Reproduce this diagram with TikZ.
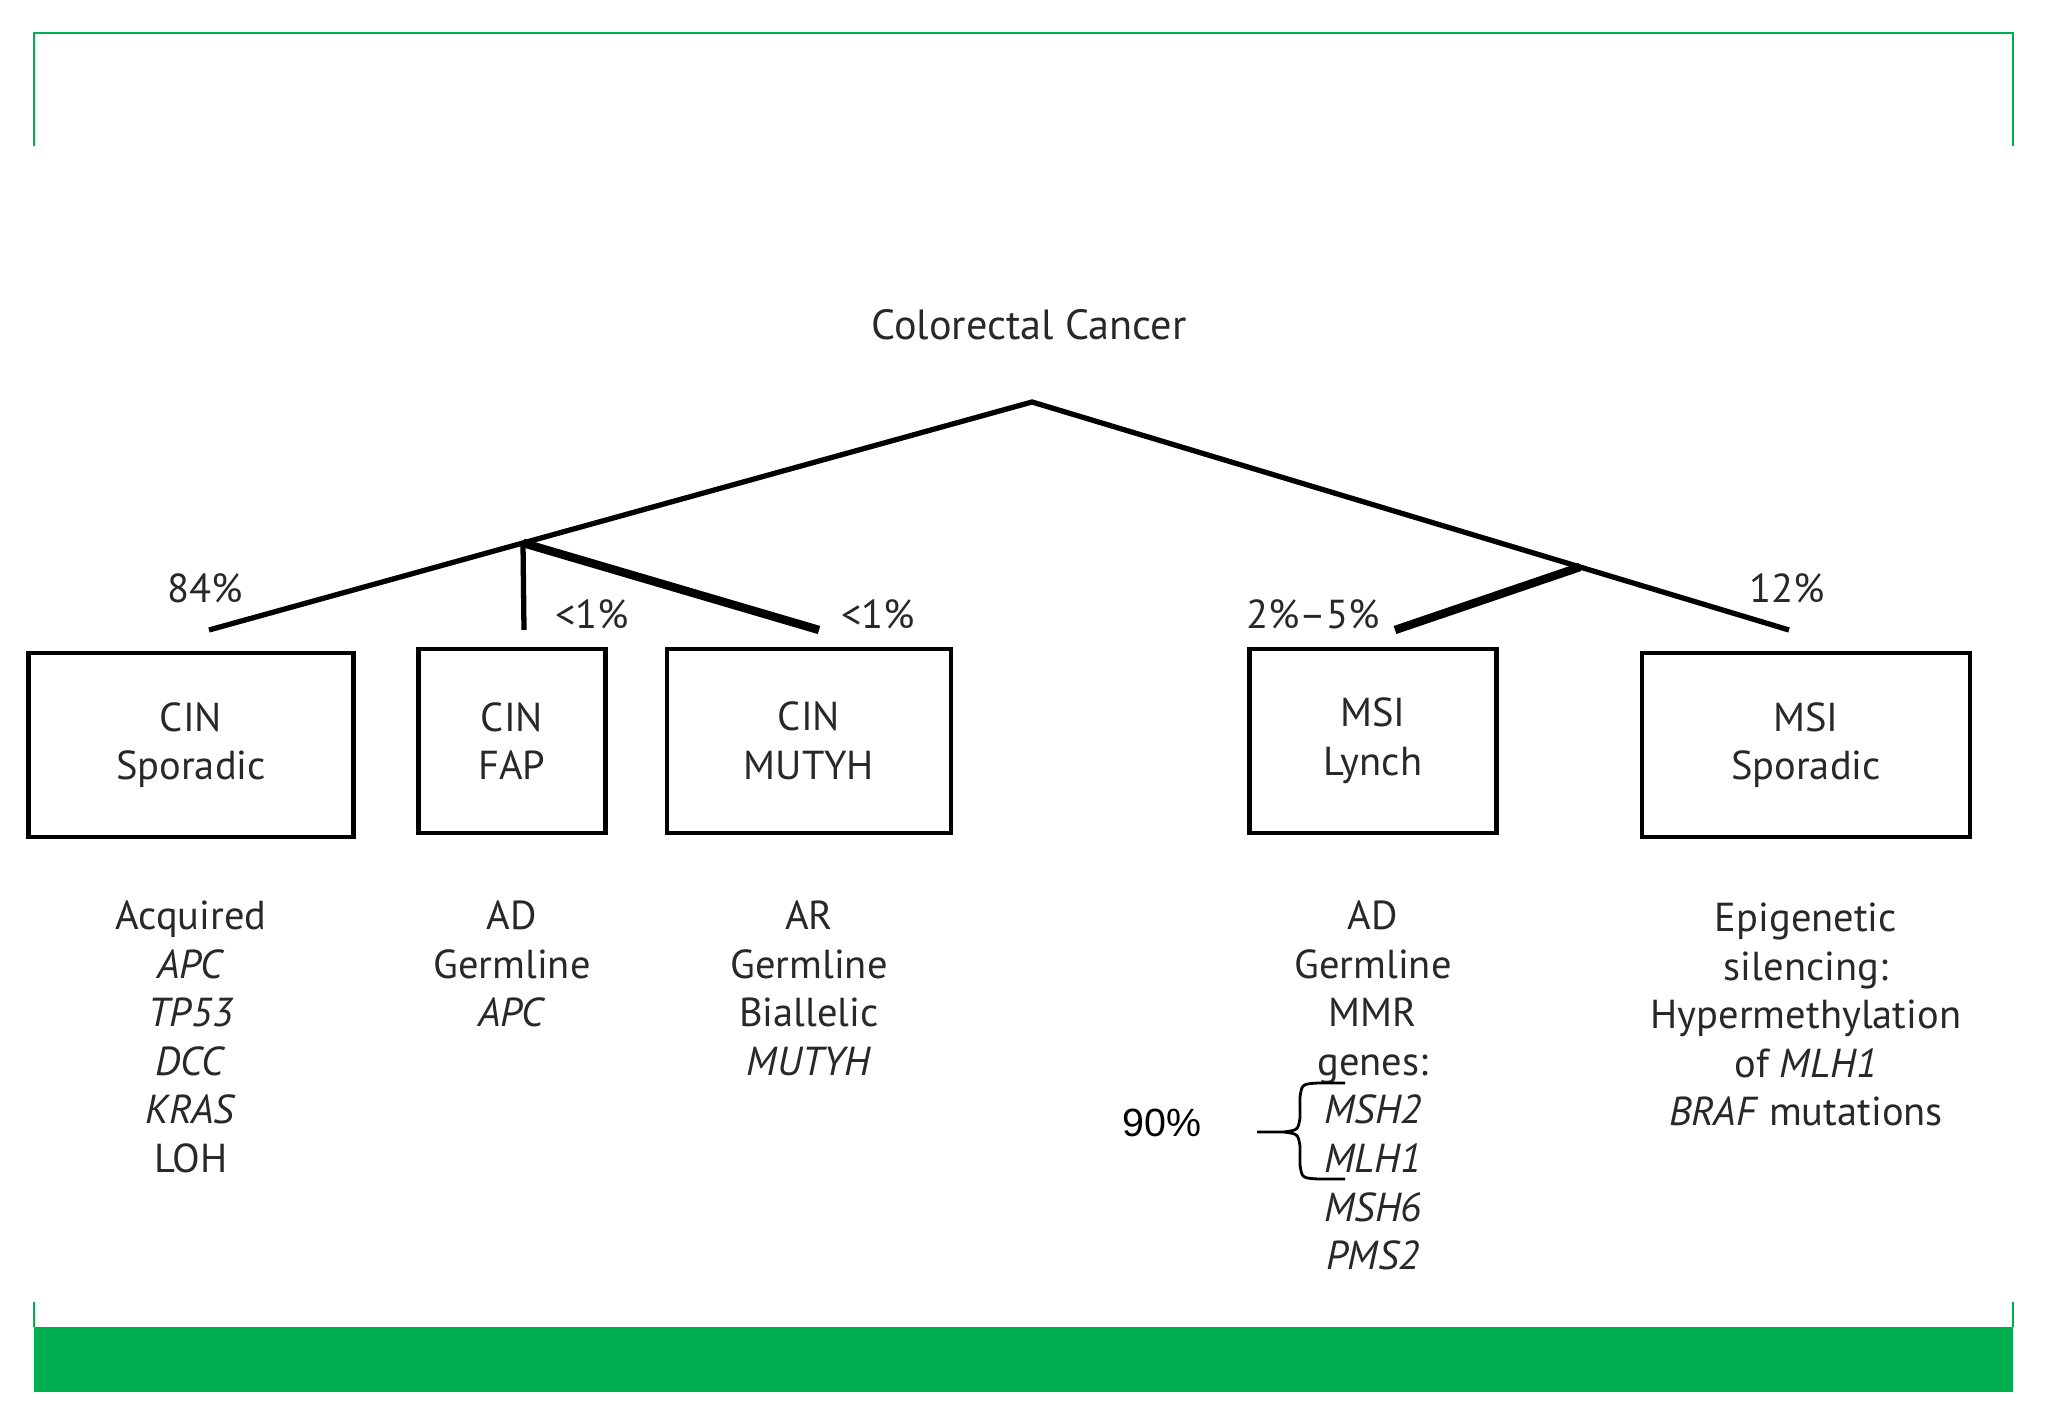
\documentclass[tikz,border=0pt]{standalone}
\usepackage{fontspec}
\setmainfont{PT Sans}
\newfontfamily\arialfont{Liberation Sans}
\usetikzlibrary{positioning}
\definecolor{framegreen}{RGB}{0,176,80}
\definecolor{inkgray}{RGB}{40,40,40}
\tikzset{
  branch/.style={line width=1.5pt},
  heavybranch/.style={line width=2.4pt},
  subtype/.style={draw, line width=1.3pt, align=center, text=inkgray,
    font=\fontsize{11.5}{13.8}\selectfont, minimum height=1.84cm, inner sep=0pt},
  genetics/.style={align=center, text=inkgray, inner sep=0pt,
    font=\fontsize{11.5}{13.8}\selectfont},
  share/.style={text=inkgray, font=\fontsize{11.5}{13.8}\selectfont},
}
\begin{document}
\begin{tikzpicture}[x=0.01cm, y=-0.01cm, node distance=0.65cm]
                    \useasboundingbox (0,0) rectangle (2048,1425);
                    % Green frame
                    \draw[framegreen, line width=0.7pt] (34,146) -- (34,33) -- (2013,33) -- (2013,146);
                    \draw[framegreen, line width=0.7pt] (34,1302) -- (34,1327);
                    \draw[framegreen, line width=0.7pt] (2013,1302) -- (2013,1327);
                    \fill[framegreen] (34,1327) rectangle (2013,1392);

                    % Root
                    \node[share, font=\fontsize{12}{14}\selectfont] (crc) at (1029,325) {Colorectal Cancer};
                    \coordinate (apex) at (1032,402);
                    \coordinate (jcin) at (523,543);
                    \coordinate (jmsi) at (1580,567);

                    % Subtypes
                    \node[subtype, minimum width=3.25cm] (cinspo) at (191,745) {CIN\\Sporadic};
                    \node[subtype, minimum width=1.87cm] (cinfap) at (512,741) {CIN\\FAP};
                    \node[subtype, minimum width=2.84cm] (cinmut) at (809,741) {CIN\\MUTYH};
                    \node[subtype, minimum width=2.47cm] (msilyn) at (1373,741) {MSI\\Lynch};
                    \node[subtype, minimum width=3.28cm] (msispo) at (1806,745) {MSI\\Sporadic};

                    % Branch ends
                    \coordinate (ecinspo) at (209,630);
                    \coordinate (ecinfap) at (524,630);
                    \coordinate (ecinmut) at (819,630);
                    \coordinate (emsilyn) at (1395,630);
                    \coordinate (emsispo) at (1789,630);

                    \draw[branch] (ecinspo) -- (jcin) -- (apex) -- (jmsi) -- (emsispo);
                    \draw[branch] (jcin) -- (ecinfap);
                    \draw[heavybranch] (jcin) -- (ecinmut);
                    \draw[heavybranch] (jmsi) -- (emsilyn);

                    % Shares
                    \node[share] (p84) at (205,588) {84\%};
                    \node[share] (pfap) at (592,614) {<1\%};
                    \node[share] (pmut) at (878,614) {<1\%};
                    \node[share] (plyn) at (1313,614) {2\%--5\%};
                    \node[share] (p12) at (1787,588) {12\%};

                    % Genetics
                    \node[genetics, below=0.61cm of cinspo] (gcinspo) {Acquired\\\textit{APC}\\\textit{TP53}\\\textit{DCC}\\\textit{KRAS}\\LOH};
                    \node[genetics, below=of cinfap] (gcinfap) {AD\\Germline\\\textit{APC}};
                    \node[genetics, below=of cinmut] (gcinmut) {AR\\Germline\\Biallelic\\\textit{MUTYH}};
                    \node[genetics, below=of msilyn] (gmsilyn) {AD\\Germline\\MMR\\genes:\\\textit{MSH2}\\\textit{MLH1}\\\textit{MSH6}\\\textit{PMS2}};
                    \node[genetics, below=0.63cm of msispo] (gmsispo) {Epigenetic\\silencing:\\Hypermethylation\\of \textit{MLH1}\\\textit{BRAF} mutations};

                    % 90% brace
                    \node[font=\arialfont\fontsize{11.2}{13}\selectfont] (p90) at (1162,1123) {90\%};
                    \coordinate (brtip) at (1257,1132);
                    \coordinate (brtop) at (1345,1083);
                    \coordinate (brbot) at (1345,1179);
                    \draw[line width=0.8pt] (brtip) -- (1284,1132) .. controls (1298,1130) .. (1300,1118)
                      -- (1300,1097) .. controls (1302,1084) .. (1318,1083) -- (brtop);
                    \draw[line width=0.8pt] (1284,1132) .. controls (1298,1134) .. (1300,1146)
                      -- (1300,1165) .. controls (1302,1178) .. (1318,1179) -- (brbot);
                \end{tikzpicture}
\end{document}
